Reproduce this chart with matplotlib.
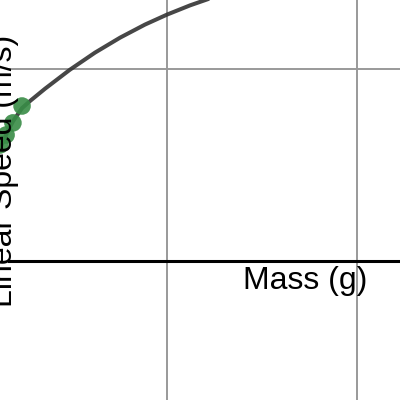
import numpy as np
import matplotlib
matplotlib.use('Agg')
import matplotlib.pyplot as plt

plt.rcParams['font.family'] = ['Liberation Sans', 'DejaVu Sans']

# ======= data (grid units) =======
mass_pts = [0.121, 0.153, 0.189, 0.237]
speed_pts = [0.604, 0.656, 0.719, 0.807]

curve_mass = [0.090, 0.121, 0.153, 0.189, 0.237, 0.279, 0.358, 0.489,
              0.621, 0.753, 0.884, 1.000, 1.121, 1.237]
curve_speed = [0.540, 0.585, 0.657, 0.727, 0.796, 0.833, 0.897, 0.996,
               1.085, 1.163, 1.231, 1.283, 1.331, 1.371]

grid_x = [1, 2]
grid_y = [1]

x_label = 'Mass (g)'
y_label = 'Linear Speed (m/s)'

# ======= plot =======
fig = plt.figure(figsize=(4, 4), dpi=100)
ax = fig.add_axes([0, 0, 1, 1])
ax.set_xlim(0.121, 2.226)
ax.set_ylim(-0.724, 1.359)
ax.axis('off')

for gx in grid_x:
    ax.axvline(gx, color='#999999', lw=1.4, zorder=1)
for gy in grid_y:
    ax.axhline(gy, xmin=9 / 400, color='#999999', lw=1.4, zorder=1)
ax.axhline(0, xmin=9 / 400, color='black', lw=2.2, zorder=2)

ax.plot(curve_mass, curve_speed, color='#333333', alpha=0.9, lw=2.9,
        solid_capstyle='round', zorder=3)
ax.scatter(mass_pts, speed_pts, s=160, color='#388c46', alpha=0.9,
           edgecolors='none', zorder=4)

ax.text(0.6075, 0.2975, x_label, transform=ax.transAxes, fontsize=23,
        ha='left', va='center', zorder=5)
ax.text(0.01, 0.572, y_label, transform=ax.transAxes, fontsize=23,
        rotation=90, ha='center', va='center', zorder=5)

fig.savefig('out.png', dpi=100)
